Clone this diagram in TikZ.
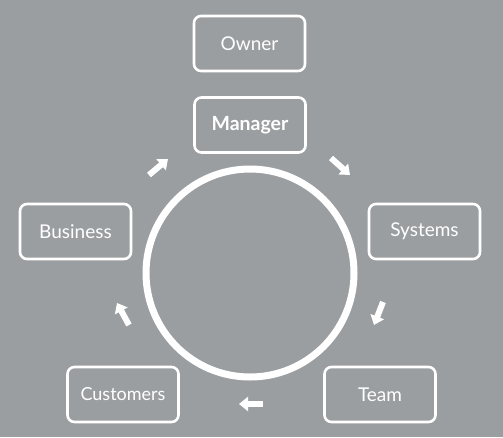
\documentclass[tikz,border=0pt]{standalone}
\usepackage{fontspec}
\setmainfont{Lato}
\usetikzlibrary{arrows.meta,positioning}
\definecolor{bggray}{RGB}{155,158,161}

\begin{document}
\begin{tikzpicture}[
        x=1pt, y=-1pt,
        box/.style={rectangle,draw=white,line width=2.6pt,rounded corners=7pt,minimum width=111pt,minimum height=55pt,align=center,text=white,font=\fontsize{19}{22}\selectfont},
        flow/.style={-{Triangle[width=14pt,length=9pt]},line width=6pt,white}
    ]
        \fill[bggray] (0,0) rectangle (503,437);
        \useasboundingbox (0,0) rectangle (503,437);

        \node[box] (owner) at (249.5,43.5) {Owner};
        \node[box, font=\bfseries\fontsize{19.5}{22}\selectfont] (manager) at (250,125) {Manager};
        \node[box] (business) at (75.5,231.5) {Business};
        \node[box] (systems) at (424.5,231.5) {Systems};
        \node[box, font=\fontsize{18}{22}\selectfont] (customers) at (123,394.5) {Customers};
        \node[box] (team) at (380,394.5) {Team};

        \draw[white,line width=7pt] (250,273) circle[radius=104];

        \draw[flow] (149,175) -- (168,159);
        \draw[flow] (331,158) -- (350,175);
        \draw[flow] (383,302) -- (374,325);
        \draw[flow] (263,404) -- (239,404);
        \draw[flow] (129,325) -- (117,303);
    \end{tikzpicture}
\end{document}
